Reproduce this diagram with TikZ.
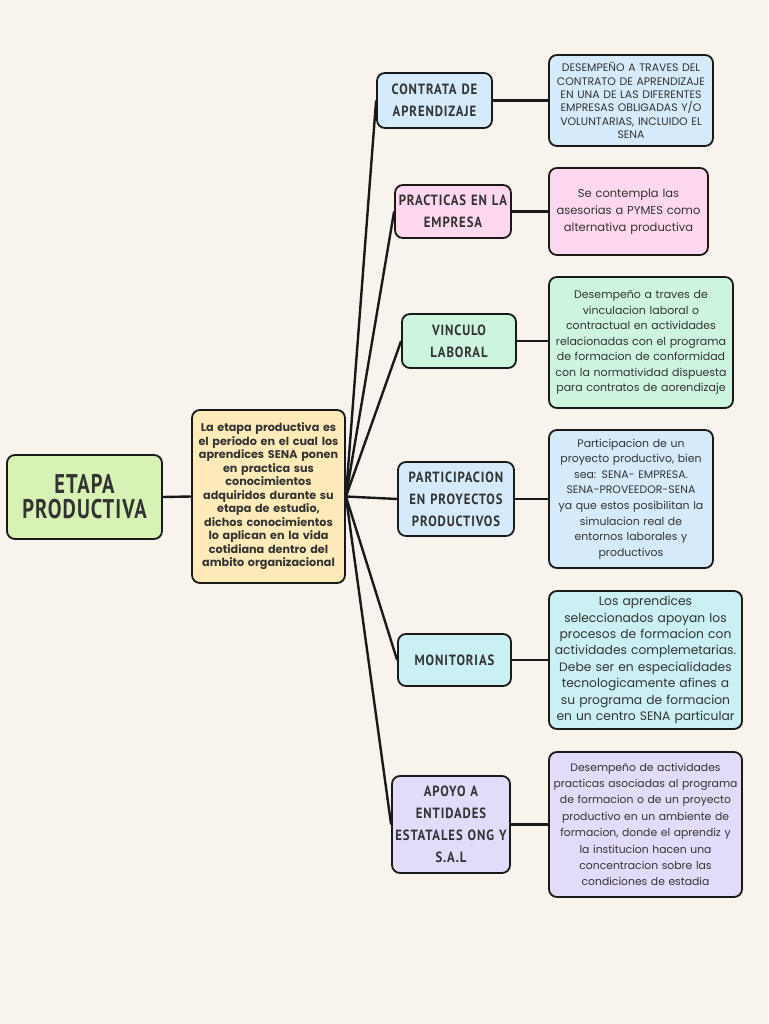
\documentclass[tikz,border=0pt]{standalone}
\usepackage{fontspec}
\setmainfont{Poppins}
\newfontfamily\hand[FakeStretch=0.86,LetterSpace=6]{PT Sans}
\newfontfamily\handbig[FakeStretch=0.76,LetterSpace=4]{PT Sans}
\definecolor{bg}{HTML}{F8F3EC}
\definecolor{ink}{HTML}{333333}
\definecolor{cgreen}{HTML}{D8F2B5}
\definecolor{cyell}{HTML}{FEEBB9}
\definecolor{cblue}{HTML}{D5EAFA}
\definecolor{cpink}{HTML}{FFD8EF}
\definecolor{cmint}{HTML}{CDF5DD}
\definecolor{ccyan}{HTML}{CAF0F3}
\definecolor{clav}{HTML}{E2DCFA}
\begin{document}
\begin{tikzpicture}[x=1pt,y=-1pt,
  box/.style={draw=black!90,line width=1.8pt,rounded corners=8pt,align=center,inner xsep=0pt,inner ysep=0pt,text=ink},
  titlebox/.style={box,font=\hand\bfseries\fontsize{14.8}{22}\selectfont},
  descbox/.style={box,font=\fontsize{11}{16}\selectfont},
  link/.style={line width=2.4pt,black!90}]
\fill[bg] (0,0) rectangle (768,1024);
\useasboundingbox (0,0) rectangle (768,1024);
% main
\node[box,fill=cgreen,minimum width=155pt,minimum height=84pt,text width=150pt,font=\handbig\bfseries\fontsize{27}{25}\selectfont] (etapa) at (84.5,497) {ETAPA\\PRODUCTIVA};
\node[box,fill=cyell,minimum width=153pt,minimum height=173pt,text width=151pt,font=\bfseries\fontsize{11.2}{13.5}\selectfont] (cen) at (268.5,496.5) {La etapa productiva es\\el periodo en el cual los\\aprendices SENA ponen\\en practica sus\\conocimientos\\adquiridos durante su\\etapa de estudio,\\dichos conocimientos\\lo aplican en la vida\\cotidiana dentro del\\ambito organizacional};
% categories
\node[titlebox,fill=cblue,minimum width=115pt,minimum height=55pt,text width=113pt] (c1) at (434.5,100.5) {CONTRATA DE\\APRENDIZAJE};
\node[titlebox,fill=cpink,minimum width=116pt,minimum height=53pt,text width=114pt] (c2) at (453,211.5) {PRACTICAS EN LA\\EMPRESA};
\node[titlebox,fill=cmint,minimum width=114pt,minimum height=54pt,text width=112pt] (c3) at (459,341) {VINCULO\\LABORAL};
\node[titlebox,fill=cblue,minimum width=116pt,minimum height=74pt,text width=114pt] (c4) at (456,499) {PARTICIPACION\\EN PROYECTOS\\PRODUCTIVOS};
\node[titlebox,fill=ccyan,minimum width=113pt,minimum height=52pt,text width=111pt] (c5) at (454.5,660) {MONITORIAS};
\node[titlebox,fill=clav,minimum width=118pt,minimum height=97pt,text width=116pt] (c6) at (451,824.5) {APOYO A\\ENTIDADES\\ESTATALES ONG Y\\S.A.L};
% descriptions
\node[descbox,fill=cblue,minimum width=164pt,minimum height=91pt,text width=162pt,font=\fontsize{10.9}{13.4}\selectfont] (d1) at (631,100.5) {DESEMPEÑO A TRAVES DEL\\CONTRATO DE APRENDIZAJE\\EN UNA DE LAS DIFERENTES\\EMPRESAS OBLIGADAS Y/O\\VOLUNTARIAS, INCLUIDO EL\\SENA};
\node[descbox,fill=cpink,minimum width=159pt,minimum height=87pt,text width=155pt,font=\fontsize{11.5}{17}\selectfont] (d2) at (628.5,211.5) {Se contempla las\\asesorias a PYMES como\\alternativa productiva};
\node[descbox,fill=cmint,minimum width=184pt,minimum height=131pt,text width=182pt,font=\fontsize{11}{15.5}\selectfont] (d3) at (641,342.5) {Desempeño a traves de\\vinculacion laboral o\\contractual en actividades\\relacionadas con el programa\\de formacion de conformidad\\con la normatividad dispuesta\\para contratos de aorendizaje};
\node[descbox,fill=cblue,minimum width=164pt,minimum height=138pt,text width=162pt,font=\fontsize{10.9}{15.6}\selectfont] (d4) at (631,499) {Participacion de un\\proyecto productivo, bien\\sea: SENA- EMPRESA.\\SENA-PROVEEDOR-SENA\\ya que estos posibilitan la\\simulacion real de\\entornos laborales y\\productivos};
\node[descbox,fill=ccyan,minimum width=193pt,minimum height=138pt,text width=191pt,font=\fontsize{12.3}{16.4}\selectfont] (d5) at (645.5,660) {Los aprendices\\seleccionados apoyan los\\procesos de formacion con\\actividades complemetarias.\\Debe ser en especialidades\\tecnologicamente afines a\\su programa de formacion\\en un centro SENA particular};
\node[descbox,fill=clav,minimum width=193pt,minimum height=145pt,text width=191pt,font=\fontsize{10.8}{16.4}\selectfont] (d6) at (645.5,824.5) {Desempeño de actividades\\practicas asociadas al programa\\de formacion o de un proyecto\\productivo en un ambiente de\\formacion, donde el aprendiz y\\la institucion hacen una\\concentracion sobre las\\condiciones de estadia};
% connectors
\draw[link] (etapa.east) -- (cen.west);
\foreach \c in {c1,c2,c3,c4,c5,c6}{\draw[link] (cen.east) -- (\c.west);}
\foreach \c/\d in {c1/d1,c2/d2,c3/d3,c4/d4,c5/d5,c6/d6}{\draw[link] (\c.east) -- (\c.east -| \d.west);}
\end{tikzpicture}
\end{document}
